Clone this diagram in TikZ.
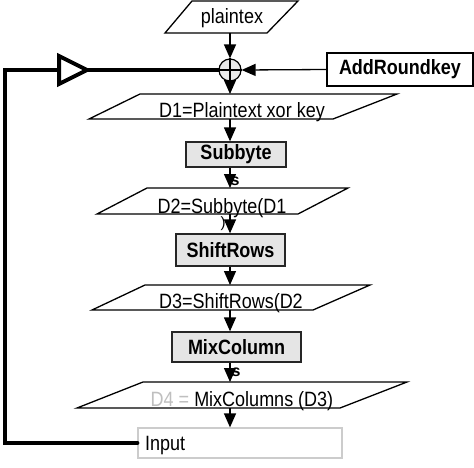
\documentclass[tikz,border=0pt]{standalone}
\usepackage{fontspec}
\setmainfont{Liberation Sans}
\usetikzlibrary{arrows.meta}
\newcommand{\vstr}[1]{\scalebox{1}[1.15]{#1}}
\begin{document}
\begin{tikzpicture}[x=1pt,y=-1pt,
  txt/.style={font=\fontsize{18}{20}\selectfont, inner sep=0pt},
  frag/.style={font=\fontsize{16}{16}\selectfont\bfseries, inner sep=0pt},
  para/.style={draw=black, line width=1.3pt, fill=white, line join=miter},
  procbox/.style={draw=black!85, line width=1.3pt, fill=black!10, inner sep=0pt, font=\fontsize{18}{20}\selectfont\bfseries},
  arr/.style={line width=1.3pt, -{Triangle[width=12pt,length=14pt]}},
  loop/.style={line width=4pt, line cap=round, line join=miter}]
\useasboundingbox (0,0) rectangle (474,467);
\fill[white] (0,0) rectangle (474,467);

% parallelograms
\draw[para] (192,1) -- (298,1) -- (267,33) -- (165,33) -- cycle;
\node[txt] (p0) at (232,18) {\vstr{plaintex}};
\coordinate (p0b) at (230,33);

\draw[para] (140,94) -- (397,94) -- (333,119) -- (89,119) -- cycle;
\node[txt, anchor=base] (d1) at (242,117) {\vstr{D1=Plaintext xor key}};
\coordinate (d1t) at (230,94);
\coordinate (d1b) at (230,119);

\draw[para] (147,188) -- (348,188) -- (298,214) -- (97,214) -- cycle;
\node[txt, anchor=base] (d2) at (222,213) {\vstr{D2=Subbyte(D1}};
\coordinate (d2t) at (230,188);
\coordinate (d2b) at (230,214);

\draw[para] (145,285) -- (370,285) -- (313,310) -- (92,310) -- cycle;
\node[txt, anchor=base] (d3) at (231,308) {\vstr{D3=ShiftRows(D2}};
\coordinate (d3t) at (230,285);
\coordinate (d3b) at (230,310);

\draw[para] (143,382) -- (407,382) -- (340,408) -- (77,408) -- cycle;
\node[txt, anchor=base] (d4) at (242,406) {\vstr{\textcolor{black!25}{D4 =} MixColumns (D3)}};
\coordinate (d4t) at (230,382);
\coordinate (d4b) at (230,408);

% xor
\node[circle, draw=black, line width=1.2pt, fill=black!8, minimum size=22pt, inner sep=0pt] (xor) at (230,70) {};
\draw[line width=1.2pt] (xor.north) -- (xor.south) (xor.west) -- (xor.east);

% process boxes
\node[procbox, minimum width=100pt, minimum height=25pt] (sb) at (236,154.5) {\vstr{Subbyte}};
\node[procbox, minimum width=109pt, minimum height=32pt] (sr) at (230.5,250) {\vstr{ShiftRows}};
\node[procbox, minimum width=129pt, minimum height=30pt] (mc) at (236.5,347) {\vstr{MixColumn}};
\node[draw=black, line width=1.3pt, fill=white, minimum width=146pt, minimum height=33pt, inner sep=0pt, font=\fontsize{18}{20}\selectfont\bfseries] (ark) at (400,69.5) {\vstr{AddRoundkey}};
\node[draw=black!20, line width=1.2pt, fill=white, minimum width=204pt, minimum height=30pt, inner sep=0pt] (inp) at (240,443) {};
\node[txt, anchor=base west] (inptxt) at (145,450) {\vstr{Input}};

% arrows
\draw[arr] (p0b) -- (xor.north);
\draw[arr] (xor.south) -- (d1t);
\draw[arr] (d1b) -- (sb.north -| d1b);
\draw[arr] (sb.south -| d1b) -- (d2t);
\draw[arr] (d2b) -- (sr.north -| d2b);
\draw[arr] (sr.south -| d2b) -- (d3t);
\draw[arr] (d3b) -- (mc.north -| d3b);
\draw[arr] (mc.south -| d3b) -- (d4t);
\draw[arr] (d4b) -- (inp.north -| d4b);
\draw[arr] (ark.west) -- (xor.east);

% overflow fragments
\node[frag] (s1) at (235,181) {s};
\node[txt, font=\fontsize{15}{15}\selectfont] (rp) at (223,224) {)};
\node[frag] (s2) at (236,372) {s};

% feedback loop
\coordinate (lc) at (5,70);
\draw[loop] (inp.west) -| (lc) -- (xor.west);
\coordinate (tri) at (87,70);
\draw[line width=4pt, fill=white, line join=miter] (tri) -- (59,56) -- (59,84) -- cycle;
\end{tikzpicture}
\end{document}
